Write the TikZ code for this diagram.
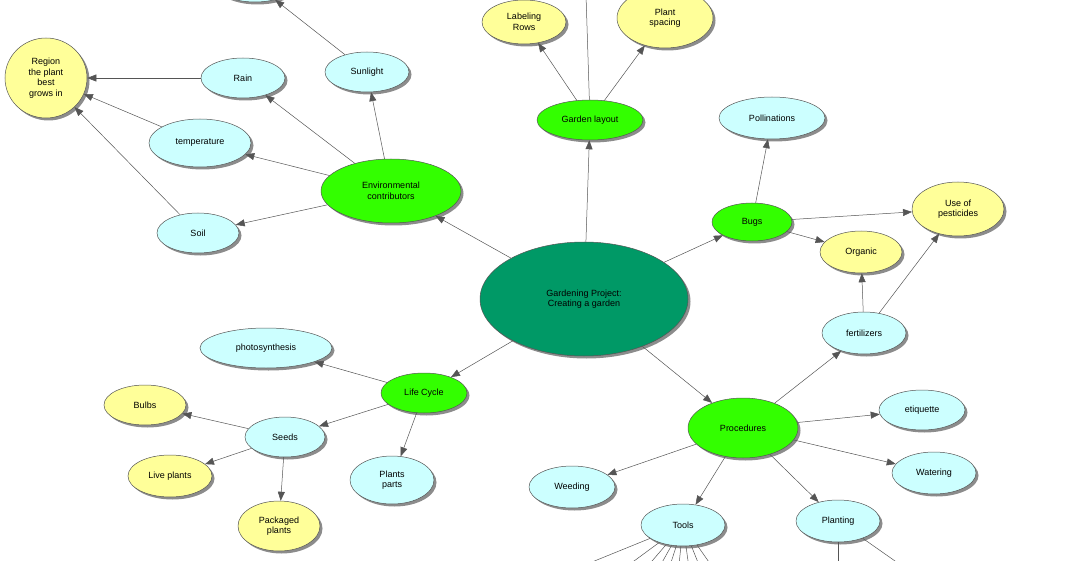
\documentclass[tikz,border=0pt]{standalone}
\usepackage{fontspec}
\setmainfont{Liberation Sans}
\usetikzlibrary{arrows.meta}
\definecolor{cg}{HTML}{009966}
\definecolor{bg}{HTML}{33FF00}
\definecolor{cy}{HTML}{CCFFFF}
\definecolor{ye}{HTML}{FFFF99}
\definecolor{ln}{HTML}{555555}
\tikzset{
 bub/.style 2 args={ellipse,draw=ln,line width=0.5pt,inner sep=0pt,minimum width=2*#1 pt,minimum height=2*#2 pt,align=center,font=\fontsize{9}{10.5}\selectfont,
   preaction={fill=black!45,transform canvas={shift={(2.5pt,-2.5pt)}}}},
 cen/.style 2 args={bub={#1}{#2},fill=cg},
 grn/.style 2 args={bub={#1}{#2},fill=bg},
 cyn/.style 2 args={bub={#1}{#2},fill=cy},
 yel/.style 2 args={bub={#1}{#2},fill=ye},
 arr/.style={draw=ln,line width=0.5pt,-{Triangle[length=9pt,width=7pt]}},
 pln/.style={draw=ln,line width=0.5pt}
}
\usetikzlibrary{shapes.geometric}
\begin{document}
\begin{tikzpicture}[x=1pt,y=-1pt]
\useasboundingbox (0,0) rectangle (1067,561);
\clip (0,0) rectangle (1067,561);
\node[cen={104}{57}] (c) at (584,299) {Gardening Project:\\Creating a garden};
\node[grn={70}{32}] (env) at (391,191) {Environmental\\contributors};
\node[grn={53}{20}] (gl) at (590,120) {Garden layout};
\node[grn={40}{19}] (bugs) at (752,222) {Bugs};
\node[grn={43}{20}] (lc) at (424,393) {Life Cycle};
\node[grn={55}{30}] (proc) at (743,428) {Procedures};
\node[cyn={42}{20}] (rain) at (243,78) {Rain};
\node[cyn={42}{20}] (sun) at (367,72) {Sunlight};
\node[cyn={51}{24}] (temp) at (200,143) {temperature};
\node[cyn={41}{20}] (soil) at (198,233) {Soil};
\node[cyn={40}{18}] (top) at (255,-16) {};
\node[cyn={53}{21}] (poll) at (772,118) {Pollinations};
\node[cyn={42}{21}] (fert) at (864,333) {fertilizers};
\node[cyn={66}{20}] (photo) at (266,348) {photosynthesis};
\node[cyn={40}{20}] (seeds) at (285,437) {Seeds};
\node[cyn={42}{24}] (pp) at (392,480) {Plants\\parts};
\node[cyn={43}{20}] (eti) at (922,410) {etiquette};
\node[cyn={42}{21}] (wat) at (934,473) {Watering};
\node[cyn={43}{21}] (weed) at (572,487) {Weeding};
\node[cyn={42}{21}] (tools) at (683,525) {Tools};
\node[cyn={42}{21}] (plant) at (838,521) {Planting};
\node[yel={41}{40}] (reg) at (46,78) {Region\\the plant\\best\\grows in};
\node[yel={42}{22}] (lab) at (524,22) {Labeling\\Rows};
\node[yel={48}{30}] (spc) at (665,18) {Plant\\spacing};
\node[yel={46}{27}] (pest) at (958,209) {Use of\\pesticides};
\node[yel={41}{21}] (org) at (861,252) {Organic};
\node[yel={41}{20}] (bulbs) at (145,405) {Bulbs};
\node[yel={42}{21}] (live) at (170,476) {Live plants};
\node[yel={41}{25}] (pack) at (279,526) {Packaged\\plants};
\foreach \a/\b in {c/env,c/gl,c/bugs,c/lc,c/proc,env/rain,env/sun,env/temp,env/soil,
  rain/reg,temp/reg,soil/reg,sun/top,gl/lab,gl/spc,bugs/poll,bugs/pest,bugs/org,
  fert/org,fert/pest,proc/fert,proc/eti,proc/wat,proc/weed,proc/tools,proc/plant,
  lc/photo,lc/seeds,lc/pp,seeds/bulbs,seeds/live,seeds/pack}
  \draw[arr] (\a) -- (\b);
\coordinate (g1) at (586,-5);
\draw[pln] (gl) -- (g1);
\foreach \x in {560,615,640,655,667,678,690,703,718}{
  \coordinate (t) at (\x,575);
  \draw[pln] (tools) -- (t);}
\coordinate (p1) at (838,575);
\coordinate (p2) at (915,575);
\draw[pln] (plant) -- (p1);
\draw[pln] (plant) -- (p2);
\end{tikzpicture}
\end{document}
